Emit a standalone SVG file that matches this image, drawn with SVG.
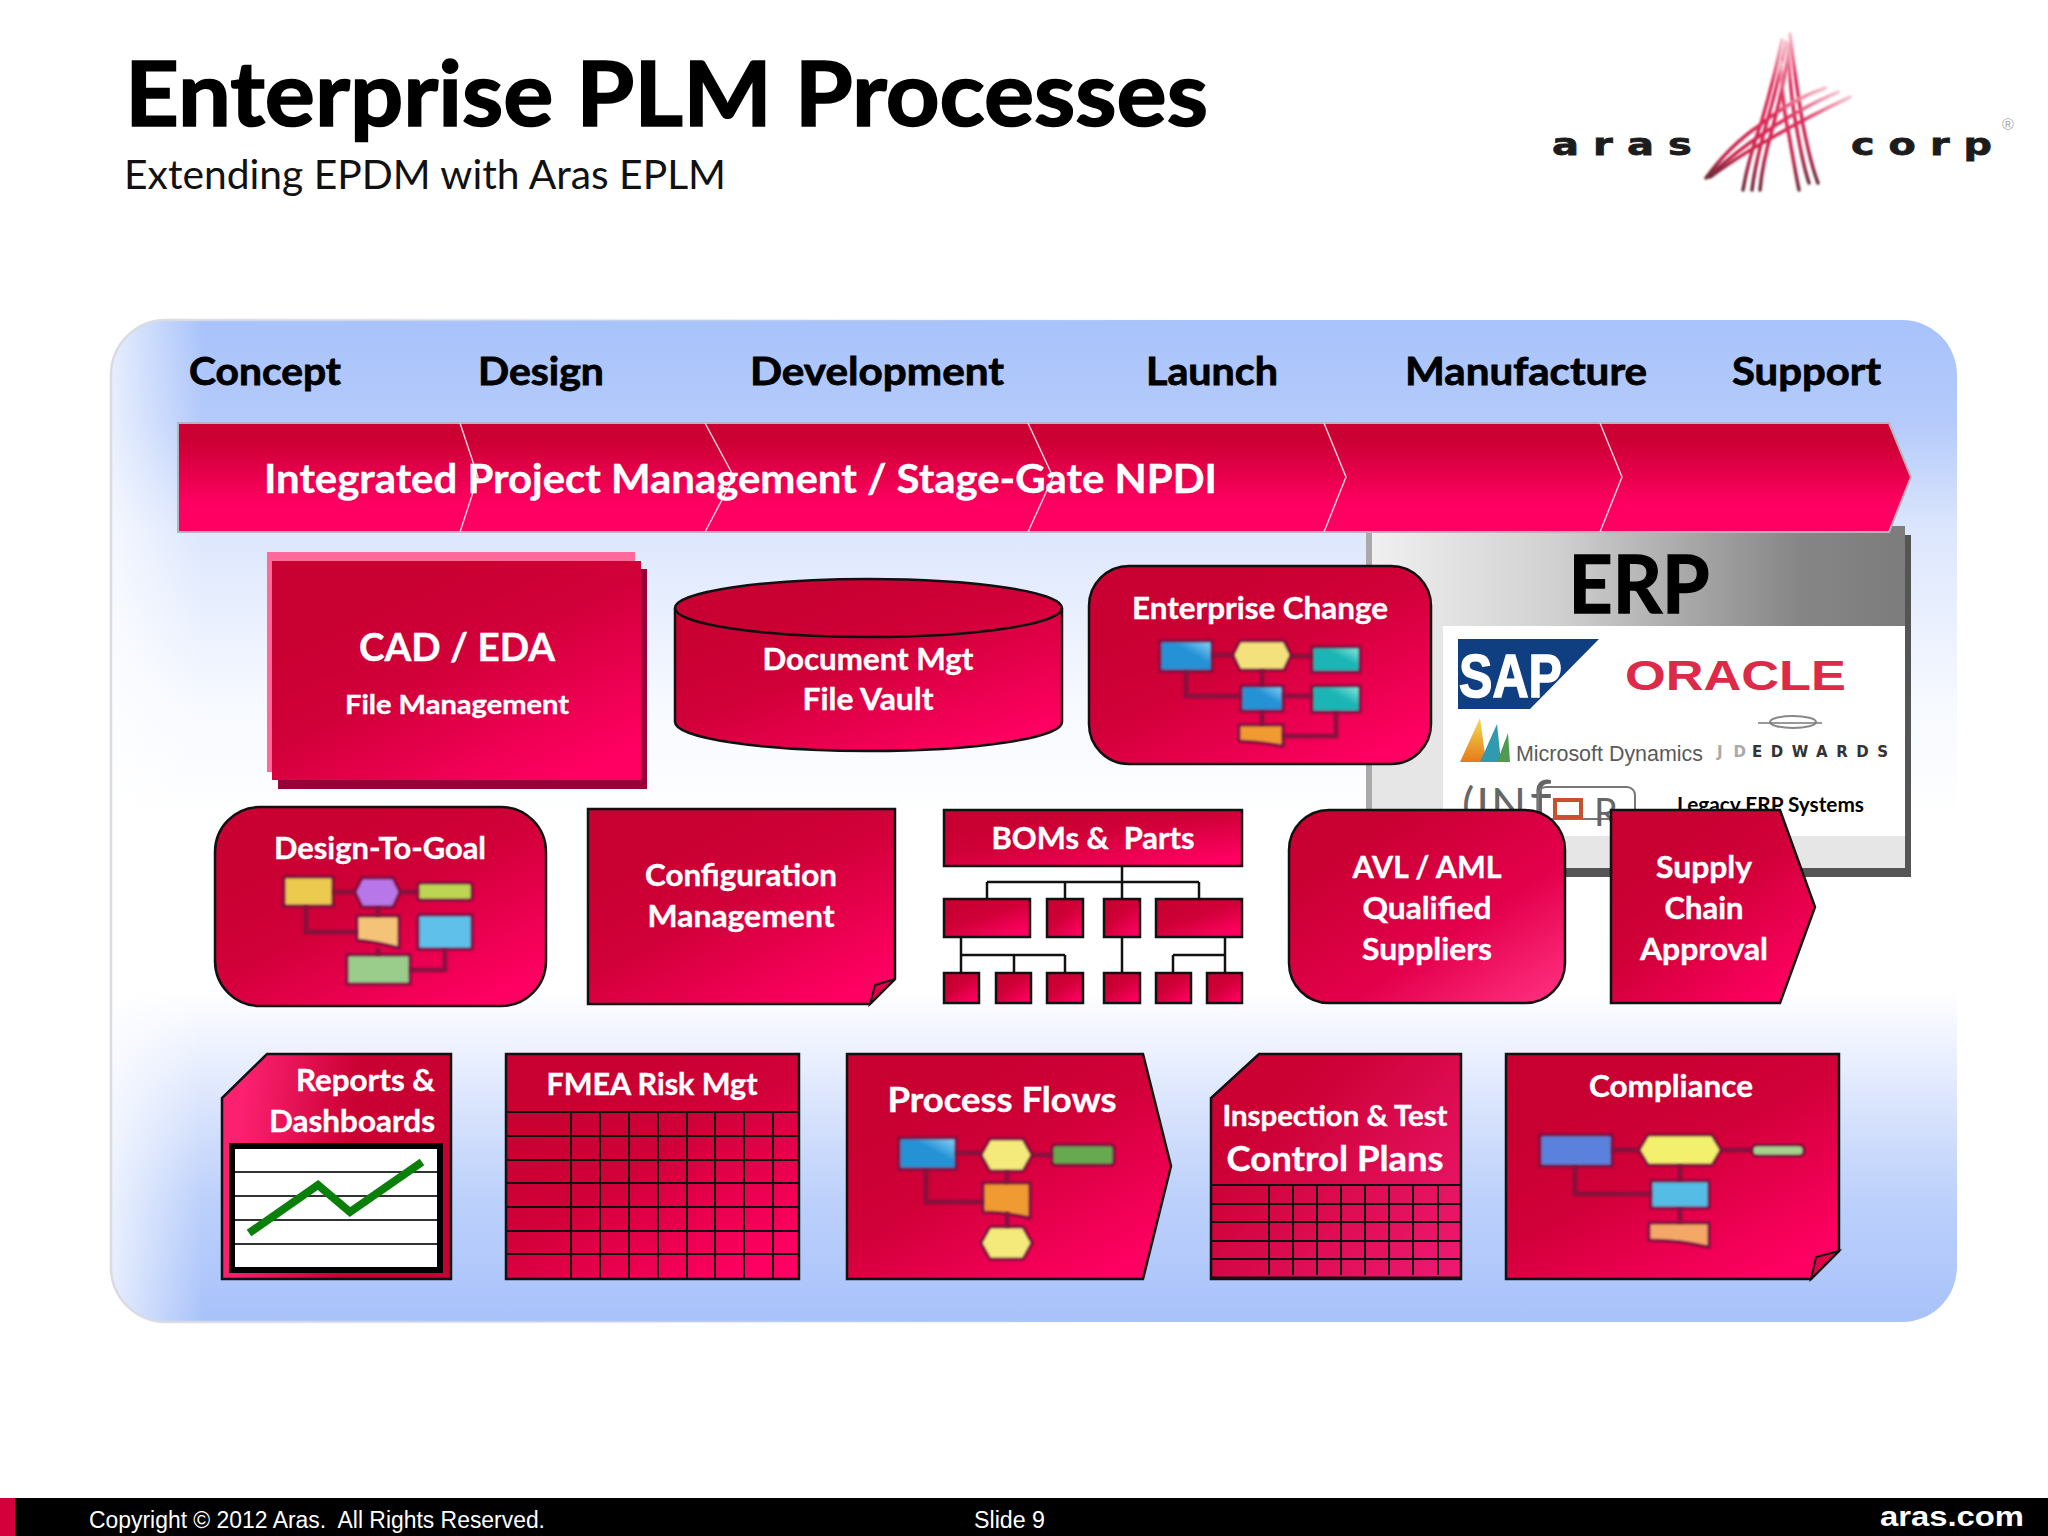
<svg xmlns="http://www.w3.org/2000/svg" width="2048" height="1536" viewBox="0 0 2048 1536">
<style>
text{font-family:"Lato","Noto Sans",sans-serif;font-weight:700}
.w{fill:#fff;text-anchor:middle;stroke:#fff;stroke-width:.4}
.k{fill:#000;stroke:#000;stroke-width:.8}
.blk{stroke:#111;stroke-width:2.5;fill:url(#red)}
.grid{stroke:#111;stroke-width:2;fill:none}
.bom{stroke:#111;stroke-width:2.5;fill:none}
.ic{stroke:#7a1540;stroke-width:4.5;fill:none;opacity:.9;filter:url(#soft)}
.sh{stroke:#7a1040;stroke-width:3;filter:url(#soft)}
.foot{font-family:"Liberation Sans",Arial,sans-serif;font-weight:400;fill:#fff;font-size:23px}
.logo{font-family:"DejaVu Sans",sans-serif;font-weight:700;fill:#1c1c1c;font-size:31px;letter-spacing:11px;stroke:#1c1c1c;stroke-width:.8}
</style>
<defs>
<filter id="soft" x="-15%" y="-15%" width="130%" height="130%"><feGaussianBlur stdDeviation="0.9"/></filter>
<linearGradient id="red" x1="0.25" y1="0.2" x2="0.85" y2="0.95"><stop offset="0" stop-color="#c90032"/><stop offset="0.35" stop-color="#d00038"/><stop offset="1" stop-color="#ff0062"/></linearGradient>
<linearGradient id="redV" x1="0" y1="0" x2="0" y2="1"><stop offset="0.15" stop-color="#cb0033"/><stop offset="0.75" stop-color="#ff0062"/></linearGradient>
<linearGradient id="redAvl" x1="0.2" y1="0.2" x2="0.95" y2="1"><stop offset="0" stop-color="#c90032"/><stop offset="0.55" stop-color="#e4004c"/><stop offset="1" stop-color="#ff3080"/></linearGradient>
<linearGradient id="redRep" x1="0.1" y1="0.15" x2="0.6" y2="0.2"><stop offset="0" stop-color="#fb2070"/><stop offset="1" stop-color="#c90032"/></linearGradient>
<linearGradient id="redCtl" x1="0.2" y1="0.3" x2="0.95" y2="0.95"><stop offset="0" stop-color="#cb0033"/><stop offset="1" stop-color="#ee1870"/></linearGradient>
<linearGradient id="bg" x1="0" y1="0" x2="0" y2="1"><stop offset="0" stop-color="#a8c3fb"/><stop offset="0.1" stop-color="#b4cafb"/><stop offset="0.21" stop-color="#dce6fd"/><stop offset="0.38" stop-color="#f6f9ff"/><stop offset="0.5" stop-color="#fff"/><stop offset="0.67" stop-color="#fff"/><stop offset="0.78" stop-color="#dbe5fd"/><stop offset="0.88" stop-color="#bcd0fb"/><stop offset="1" stop-color="#a8c2fa"/></linearGradient>
<linearGradient id="fade" x1="0" y1="0" x2="1" y2="0"><stop offset="0" stop-color="#fff" stop-opacity="0.7"/><stop offset="0.05" stop-color="#fff" stop-opacity="0"/></linearGradient>
<linearGradient id="edge" x1="0" y1="0" x2="1" y2="0"><stop offset="0" stop-color="#d8dbe2"/><stop offset="0.6" stop-color="#d8dbe2" stop-opacity="0"/></linearGradient>
<linearGradient id="erp" x1="0" y1="0" x2="1" y2="0"><stop offset="0" stop-color="#f0f0f0"/><stop offset="0.35" stop-color="#d0d0d0"/><stop offset="0.8" stop-color="#868686"/><stop offset="1" stop-color="#7c7c7c"/></linearGradient>
<linearGradient id="aCol" x1="0" y1="0" x2="0" y2="1"><stop offset="0" stop-color="#f6c0cc"/><stop offset="0.3" stop-color="#e02a5a"/><stop offset="0.75" stop-color="#c8264c"/><stop offset="1" stop-color="#6a2a3a"/></linearGradient>
<linearGradient id="sail1" x1="0" y1="0" x2="0" y2="1"><stop offset="0" stop-color="#f4dc50"/><stop offset="1" stop-color="#e67a1c"/></linearGradient>
<linearGradient id="blueI" x1="0" y1="1" x2="1" y2="0"><stop offset="0.6" stop-color="#2692d6"/><stop offset="1" stop-color="#8fd6f6"/></linearGradient>
<linearGradient id="tealI" x1="0" y1="1" x2="1" y2="0"><stop offset="0.6" stop-color="#1fb5b5"/><stop offset="1" stop-color="#8ff0e0"/></linearGradient>
</defs>

<rect width="2048" height="1536" fill="#fff"/>

<g id="title">
<text x="125" y="126" font-size="90" class="k" style="stroke-width:1.6" textLength="1083" lengthAdjust="spacingAndGlyphs">Enterprise PLM Processes</text>
<text x="124" y="189" font-size="41" fill="#111" style="font-weight:400" textLength="602" lengthAdjust="spacingAndGlyphs">Extending EPDM with Aras EPLM</text>
</g>

<g id="aras-logo">
<text x="1552" y="155" class="logo" textLength="154" lengthAdjust="spacingAndGlyphs">aras</text>
<text x="1851" y="155" class="logo" textLength="155" lengthAdjust="spacingAndGlyphs">corp</text>
<g fill="none" stroke="url(#aCol)" stroke-width="3.5" stroke-linecap="round" filter="url(#soft)">
<path d="M1782 40Q1775 75 1762 120Q1748 160 1743 190"/>
<path d="M1786 42Q1778 85 1766 125Q1755 165 1752 190"/>
<path d="M1790 44Q1783 90 1772 130Q1762 165 1760 190"/>
<path d="M1781 62Q1782 105 1789 135Q1795 170 1799 190"/>
<path d="M1788 44Q1790 95 1797 130Q1803 165 1809 183"/>
<path d="M1790 34Q1796 85 1803 125Q1811 165 1818 183"/>
<path d="M1706 178Q1730 145 1760 125Q1790 100 1825 88"/>
<path d="M1708 177Q1738 150 1764 133Q1800 108 1838 92"/>
<path d="M1710 177Q1745 152 1768 140Q1805 118 1850 97"/>
</g>
<text x="2002" y="130" font-size="16" fill="#aaa" style="font-family:'Liberation Sans',sans-serif;font-weight:400">®</text>
</g>

<g id="panel">
<rect x="111" y="320" width="1846" height="1002" rx="55" fill="url(#bg)"/>
<rect x="111" y="320" width="1846" height="1002" rx="55" fill="url(#fade)" stroke="url(#edge)" stroke-width="2.5"/>
</g>

<g id="phases">
<text x="189" y="385" class="k" font-size="39" textLength="152" lengthAdjust="spacingAndGlyphs">Concept</text>
<text x="478" y="385" class="k" font-size="39" textLength="126" lengthAdjust="spacingAndGlyphs">Design</text>
<text x="750" y="385" class="k" font-size="39" textLength="254" lengthAdjust="spacingAndGlyphs">Development</text>
<text x="1146" y="385" class="k" font-size="39" textLength="132" lengthAdjust="spacingAndGlyphs">Launch</text>
<text x="1405" y="385" class="k" font-size="39" textLength="242" lengthAdjust="spacingAndGlyphs">Manufacture</text>
<text x="1732" y="385" class="k" font-size="39" textLength="149" lengthAdjust="spacingAndGlyphs">Support</text>
</g>

<g id="erp-panel">
<rect x="1366" y="533" width="6" height="300" fill="#a9a9a9"/>
<rect x="1378" y="535" width="533" height="342" fill="#555"/>
<rect x="1372" y="526" width="533" height="342" fill="#e6e6e6"/>
<rect x="1372" y="526" width="533" height="100" fill="url(#erp)"/>
<rect x="1443" y="626" width="462" height="210" fill="#fff"/>
<text x="1639" y="613" font-size="80" class="k" style="stroke-width:1.4" text-anchor="middle" textLength="141" lengthAdjust="spacingAndGlyphs">ERP</text>
<polygon points="1458,639 1599,639 1530,709 1458,709" fill="#0f3f80"/>
<text x="1459" y="697" font-size="62" fill="#fff" stroke="#fff" stroke-width="1.5" style="font-family:'Liberation Sans',sans-serif;font-weight:700" textLength="103" lengthAdjust="spacingAndGlyphs">SAP</text>
<text x="1625" y="690" font-size="43" fill="#dc2a48" style="font-family:'Liberation Sans',sans-serif;font-weight:700" textLength="221" lengthAdjust="spacingAndGlyphs">ORACLE</text>
<polygon points="1460,762 1480,718 1486,762" fill="url(#sail1)"/>
<polygon points="1480,762 1497,724 1501,762" fill="#2f9ab0"/>
<polygon points="1497,762 1508,733 1510,762" fill="#4f9a50"/>
<text x="1516" y="761" font-size="22" fill="#5a5a5a" style="font-family:'Liberation Sans',sans-serif;font-weight:400" textLength="187" lengthAdjust="spacingAndGlyphs">Microsoft Dynamics</text>
<ellipse cx="1793" cy="722" rx="23" ry="6" fill="none" stroke="#888" stroke-width="2"/>
<path d="M1758 723H1822" stroke="#777" stroke-width="1.5"/>
<text x="1717" y="757" font-size="15" fill="#aaa" style="font-family:'DejaVu Sans',sans-serif;font-weight:700" textLength="29">JD</text>
<text x="1752" y="757" font-size="15" fill="#333" style="font-family:'DejaVu Sans',sans-serif;font-weight:700" textLength="136">EDWARDS</text>
<g style="font-family:'Liberation Sans',sans-serif">
<text x="1462" y="821" font-size="46" fill="#666" style="font-weight:400" textLength="64">(IN</text>
<text x="1530" y="825" font-size="62" fill="#666" style="font-weight:400">f</text>
<rect x="1538" y="787" width="97" height="32" rx="8" fill="none" stroke="#777" stroke-width="2"/>
<rect x="1555" y="800" width="26" height="17" fill="none" stroke="#c8502e" stroke-width="4"/>
<text x="1594" y="826" font-size="38" fill="#666" style="font-weight:400">R</text>
</g>
<text x="1677" y="812" font-size="20" class="k" style="stroke-width:0" textLength="187" lengthAdjust="spacingAndGlyphs">Legacy ERP Systems</text>
</g>

<g id="stage-gate">
<polygon points="178,423 1889,423 1911,477 1889,532 178,532" fill="url(#redV)" stroke="#b5b5bd" stroke-width="2"/>
<g stroke="#e8d0d8" stroke-width="1.5" fill="none">
<path d="M460 423L478 477L460 532"/>
<path d="M705 423L734 477L705 532"/>
<path d="M1028 423L1053 477L1028 532"/>
<path d="M1324 423L1346 477L1324 532"/>
<path d="M1600 423L1622 477L1600 532"/>
</g>
<text x="264" y="493" font-size="40" fill="#fff" stroke="#fff" stroke-width=".4" textLength="953" lengthAdjust="spacingAndGlyphs">Integrated Project Management / Stage-Gate NPDI</text>
</g>

<g id="cad-eda">
<rect x="267" y="552" width="368" height="220" fill="#ff6a9a"/>
<rect x="278" y="569" width="369" height="220" fill="#9a0038"/>
<rect x="272" y="561" width="369" height="219" fill="url(#red)"/>
<text x="457" y="661" class="w" font-size="39" textLength="196" lengthAdjust="spacingAndGlyphs">CAD / EDA</text>
<text x="457" y="714" class="w" font-size="27" textLength="224" lengthAdjust="spacingAndGlyphs">File Management</text>
</g>

<g id="document-mgt">
<path class="blk" d="M675 608A193 29 0 0 1 1062 608V722A193 29 0 0 1 675 722Z"/>
<path d="M675 608A193 29 0 0 0 1062 608" fill="none" stroke="#111" stroke-width="2.5"/>
<text x="868" y="670" class="w" font-size="30" textLength="211" lengthAdjust="spacingAndGlyphs">Document Mgt</text>
<text x="868" y="710" class="w" font-size="30" textLength="131" lengthAdjust="spacingAndGlyphs">File Vault</text>
</g>

<g id="enterprise-change">
<rect class="blk" x="1089" y="566" width="342" height="198" rx="40"/>
<text x="1260" y="619" class="w" font-size="30" textLength="256" lengthAdjust="spacingAndGlyphs">Enterprise Change</text>
<rect class="sh" x="1160" y="641" width="52" height="30" fill="url(#blueI)"/>
<polygon class="sh" points="1240,641 1284,641 1291,655 1284,670 1240,670 1233,655" fill="#f3e27c"/>
<rect class="sh" x="1312" y="647" width="48" height="25" fill="url(#tealI)"/>
<rect class="sh" x="1241" y="686" width="42" height="25" fill="url(#blueI)"/>
<rect class="sh" x="1312" y="686" width="48" height="26" fill="url(#tealI)"/>
<path class="sh" d="M1239 725H1283V746Q1262 742 1239 741Z" fill="#f09a30"/>
</g>

<g id="design-to-goal">
<rect class="blk" x="215" y="807" width="331" height="199" rx="45"/>
<text x="380" y="859" class="w" font-size="30" textLength="212" lengthAdjust="spacingAndGlyphs">Design-To-Goal</text>
<rect class="sh" x="284" y="877" width="49" height="29" fill="#ecc94f"/>
<polygon class="sh" points="362,878 393,878 400,892 393,907 362,907 355,892" fill="#b877e8"/>
<rect class="sh" x="418" y="883" width="54" height="17" rx="3" fill="#bcd653"/>
<path class="sh" d="M357 916H399V948Q378 942 357 940Z" fill="#f4c378"/>
<rect class="sh" x="418" y="915" width="54" height="34" fill="#5fc0ea"/>
<rect class="sh" x="347" y="955" width="63" height="29" fill="#9acd8c"/>
</g>

<g id="configuration">
<polygon class="blk" points="588,809 895,809 895,979 870,1004 588,1004"/>
<polygon points="895,979 875,985 870,1004" fill="#e0004a" stroke="#111" stroke-width="2"/>
<text x="741" y="886" class="w" font-size="30" textLength="192" lengthAdjust="spacingAndGlyphs">Configuration</text>
<text x="741" y="927" class="w" font-size="30" textLength="187" lengthAdjust="spacingAndGlyphs">Management</text>
</g>

<g id="boms-parts">
<rect class="blk" x="944" y="810" width="298" height="56"/>
<text x="1093" y="849" class="w" font-size="30" textLength="203" lengthAdjust="spacingAndGlyphs" xml:space="preserve">BOMs &amp;  Parts</text>
</g>
<g id="bom-tree">
<rect class="blk" x="944" y="899" width="86" height="38"/>
<rect class="blk" x="1047" y="899" width="36" height="38"/>
<rect class="blk" x="1104" y="899" width="36" height="38"/>
<rect class="blk" x="1156" y="899" width="86" height="38"/>
<rect class="blk" x="944" y="973" width="35" height="30"/>
<rect class="blk" x="996" y="973" width="35" height="30"/>
<rect class="blk" x="1047" y="973" width="36" height="30"/>
<rect class="blk" x="1104" y="973" width="36" height="30"/>
<rect class="blk" x="1156" y="973" width="35" height="30"/>
<rect class="blk" x="1207" y="973" width="35" height="30"/>
</g>

<g id="avl-aml">
<rect x="1289" y="810" width="276" height="193" rx="40" fill="url(#redAvl)" stroke="#111" stroke-width="2.5"/>
<text x="1427" y="878" class="w" font-size="31" textLength="149" lengthAdjust="spacingAndGlyphs">AVL / AML</text>
<text x="1427" y="919" class="w" font-size="31" textLength="129" lengthAdjust="spacingAndGlyphs">Qualified</text>
<text x="1427" y="960" class="w" font-size="31" textLength="130" lengthAdjust="spacingAndGlyphs">Suppliers</text>
</g>

<g id="supply-chain">
<polygon class="blk" points="1611,810 1780,810 1815,907 1780,1003 1611,1003"/>
<text x="1704" y="878" class="w" font-size="31" textLength="96" lengthAdjust="spacingAndGlyphs">Supply</text>
<text x="1704" y="919" class="w" font-size="31" textLength="79" lengthAdjust="spacingAndGlyphs">Chain</text>
<text x="1704" y="960" class="w" font-size="31" textLength="128" lengthAdjust="spacingAndGlyphs">Approval</text>
</g>

<g id="reports">
<polygon points="267,1054 451,1054 451,1279 222,1279 222,1098" fill="url(#redRep)" stroke="#111" stroke-width="2.5"/>
<text x="435" y="1091" class="w" style="text-anchor:end" font-size="30" textLength="139" lengthAdjust="spacingAndGlyphs">Reports &amp;</text>
<text x="435" y="1132" class="w" style="text-anchor:end" font-size="30" textLength="166" lengthAdjust="spacingAndGlyphs">Dashboards</text>
<rect x="232" y="1146" width="208" height="124" fill="#fff" stroke="#000" stroke-width="6"/>
<path d="M235 1172H437M235 1196H437M235 1220H437M235 1244H437" stroke="#333" stroke-width="2"/>
<polyline points="249,1233 318,1185 350,1212 422,1162" fill="none" stroke="#0a800a" stroke-width="8"/>
</g>

<g id="fmea">
<rect class="blk" x="506" y="1054" width="293" height="225"/>
<path class="grid" d="M506 1112H799M506 1136H799M506 1160H799M506 1183H799M506 1207H799M506 1231H799M506 1254H799M571 1112V1279M600 1112V1279M629 1112V1279M658 1112V1279M687 1112V1279M715 1112V1279M744 1112V1279M773 1112V1279"/>
<text x="652" y="1095" class="w" font-size="30" textLength="211" lengthAdjust="spacingAndGlyphs">FMEA Risk Mgt</text>
</g>

<g id="process-flows">
<polygon class="blk" points="847,1054 1143,1054 1171,1166 1143,1279 847,1279"/>
<text x="1002" y="1112" class="w" font-size="35" textLength="229" lengthAdjust="spacingAndGlyphs">Process Flows</text>
<rect class="sh" x="899" y="1138" width="57" height="31" fill="url(#blueI)"/>
<polygon class="sh" points="990,1139 1023,1139 1032,1155 1023,1171 990,1171 981,1155" fill="#f4ea7c"/>
<rect class="sh" x="1052" y="1145" width="62" height="20" rx="4" fill="#66a94f"/>
<path class="sh" d="M983 1183H1030V1218Q1005 1212 983 1212Z" fill="#f09a30"/>
<polygon class="sh" points="990,1227 1023,1227 1032,1243 1023,1259 990,1259 981,1243" fill="#f4ea7c"/>
</g>

<g id="control-plans">
<polygon points="1259,1054 1461,1054 1461,1279 1211,1279 1211,1098" fill="url(#redCtl)" stroke="#111" stroke-width="2.5"/>
<path class="grid" d="M1211 1185H1461M1211 1204H1461M1211 1222H1461M1211 1241H1461M1211 1259H1461M1269 1185V1275M1293 1185V1275M1317 1185V1275M1341 1185V1275M1365 1185V1275M1389 1185V1275M1413 1185V1275M1438 1185V1275"/>
<path d="M1211 1278H1461" stroke="#111" stroke-width="3"/>
<text x="1335" y="1126" class="w" font-size="28" textLength="225" lengthAdjust="spacingAndGlyphs">Inspection &amp; Test</text>
<text x="1335" y="1171" class="w" font-size="34" textLength="217" lengthAdjust="spacingAndGlyphs">Control Plans</text>
</g>

<g id="compliance">
<polygon class="blk" points="1506,1054 1839,1054 1839,1251 1811,1279 1506,1279"/>
<polygon points="1839,1251 1816,1257 1811,1279" fill="#e0004a" stroke="#111" stroke-width="2"/>
<text x="1671" y="1097" class="w" font-size="30" textLength="164" lengthAdjust="spacingAndGlyphs">Compliance</text>
<rect class="sh" x="1540" y="1135" width="72" height="31" fill="#5a82dc"/>
<polygon class="sh" points="1648,1135 1712,1135 1721,1150 1712,1165 1648,1165 1639,1150" fill="#f3f06e"/>
<rect class="sh" x="1752" y="1145" width="52" height="11" rx="5.5" fill="#a4d48c"/>
<rect class="sh" x="1651" y="1181" width="58" height="27" fill="#55bce6"/>
<path class="sh" d="M1649 1223H1709V1247Q1680 1240 1649 1240Z" fill="#f4a868"/>
</g>

<g id="connectors">
<g class="bom">
<path class="bom" d="M1122 866V899M987 882H1199M987 882V899M1065 882V899M1199 882V899"/>
<path class="bom" d="M961 937V973M961 955H1065M1014 955V973M1065 955V973"/>
<path class="bom" d="M1122 937V973"/>
<path class="bom" d="M1225 937V973M1173 955H1225M1173 955V973"/>
</g>
<g>
<path class="ic" d="M1212 655H1233M1291 656H1312M1186 671V696H1241M1262 670V686M1262 711V725M1283 696H1312M1336 712V736H1283"/>
<path class="ic" d="M333 892H355M400 892H418M306 906V932H357M378 907V916M378 948V955M410 970H445V949"/>
<path class="ic" d="M956 1153H981M1032 1155H1052M926 1169V1202H983M1007 1171V1183M1007 1212V1227"/>
<path class="ic" d="M1612 1150H1639M1721 1150H1752M1575 1166V1194H1651M1680 1165V1181M1680 1208V1223"/>
</g>
</g>

<g id="footer">
<rect x="0" y="1498" width="2048" height="38" fill="#000"/>
<rect x="0" y="1498" width="15" height="38" fill="#d4003c"/>
<text x="89" y="1528" class="foot" textLength="456" lengthAdjust="spacingAndGlyphs" xml:space="preserve">Copyright © 2012 Aras.  All Rights Reserved.</text>
<text x="974" y="1528" class="foot" textLength="71" lengthAdjust="spacingAndGlyphs">Slide 9</text>
<text x="1880" y="1526" class="foot" style="font-weight:700;font-size:28px" textLength="144" lengthAdjust="spacingAndGlyphs">aras.com</text>
</g>
</svg>
